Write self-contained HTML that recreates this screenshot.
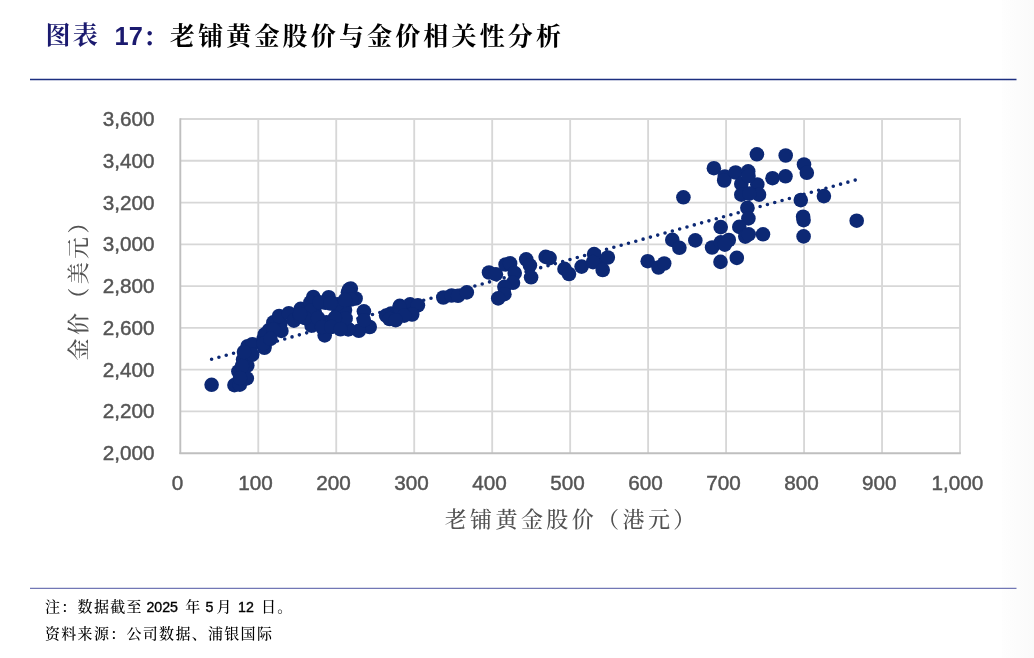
<!DOCTYPE html>
<html lang="zh-CN">
<head>
<meta charset="utf-8">
<title>图表 17：老铺黄金股价与金价相关性分析</title>
<style>
html,body{margin:0;padding:0;background:#fff;}
body{width:1034px;height:658px;overflow:hidden;position:relative;font-family:"Liberation Sans","Noto Sans CJK SC",sans-serif;}
svg{position:absolute;left:0;top:0;display:block;}
.num{font-family:"Liberation Sans",sans-serif;font-size:20.7px;fill:#555;stroke:#555;stroke-width:0.45px;}
.ax{font-family:"Liberation Serif","Noto Serif CJK SC",serif;font-size:22px;letter-spacing:3.4px;fill:#525252;font-weight:500;}
.title{font-family:"Liberation Sans","Noto Serif CJK SC",serif;font-weight:bold;font-size:25px;}
.foot{font-family:"Liberation Sans","Noto Serif CJK SC",serif;font-size:15px;letter-spacing:1.3px;fill:#000;font-weight:500;}
.fnum{font-family:"Liberation Sans",sans-serif;font-size:14.2px;letter-spacing:0;font-weight:400;stroke:#000;stroke-width:0.35px;}
</style>
</head>
<body>
<svg width="1034" height="658" viewBox="0 0 1034 658">
<defs><linearGradient id="edge" x1="0" x2="1" y1="0" y2="0"><stop offset="0" stop-color="#fefefe"/><stop offset="1" stop-color="#fafafa"/></linearGradient></defs>
<rect width="1034" height="658" fill="#fff"/>
<rect x="1002" y="0" width="32" height="658" fill="url(#edge)"/>
<g class="title" fill="#1b1a6f">
<text x="45.6" y="44.4" letter-spacing="2.2">图表 </text>
<text x="114.6" y="45.2" font-size="25.4">17</text>
<text x="143" y="46">：</text>
</g>
<text class="title" x="170" y="44.6" fill="#000" letter-spacing="3.15">老铺黄金股价与金价相关性分析</text>
<line x1="30" y1="79.5" x2="1016.5" y2="79.5" stroke="#1c2f80" stroke-width="1.3"/>
<g stroke="#d7d7d7" stroke-width="1.85" fill="none"><line x1="258.27" y1="118.15" x2="258.27" y2="453.2"/><line x1="336.24" y1="118.15" x2="336.24" y2="453.2"/><line x1="414.21" y1="118.15" x2="414.21" y2="453.2"/><line x1="492.18" y1="118.15" x2="492.18" y2="453.2"/><line x1="570.15" y1="118.15" x2="570.15" y2="453.2"/><line x1="648.12" y1="118.15" x2="648.12" y2="453.2"/><line x1="726.09" y1="118.15" x2="726.09" y2="453.2"/><line x1="804.06" y1="118.15" x2="804.06" y2="453.2"/><line x1="882.03" y1="118.15" x2="882.03" y2="453.2"/><line x1="960.00" y1="118.15" x2="960.00" y2="453.2"/><line x1="180.3" y1="119.00" x2="960.85" y2="119.00"/><line x1="180.3" y1="160.78" x2="960.85" y2="160.78"/><line x1="180.3" y1="202.55" x2="960.85" y2="202.55"/><line x1="180.3" y1="244.32" x2="960.85" y2="244.32"/><line x1="180.3" y1="286.10" x2="960.85" y2="286.10"/><line x1="180.3" y1="327.88" x2="960.85" y2="327.88"/><line x1="180.3" y1="369.65" x2="960.85" y2="369.65"/><line x1="180.3" y1="411.43" x2="960.85" y2="411.43"/></g>
<g stroke="#bfbfbf" stroke-width="1.9" fill="none"><line x1="180.3" y1="118.15" x2="180.3" y2="454.09999999999997"/><line x1="179.4" y1="453.2" x2="960.85" y2="453.2"/></g>
<g class="num"><text x="154.6" y="126.0" text-anchor="end">3,600</text><text x="154.6" y="167.8" text-anchor="end">3,400</text><text x="154.6" y="209.6" text-anchor="end">3,200</text><text x="154.6" y="251.3" text-anchor="end">3,000</text><text x="154.6" y="293.1" text-anchor="end">2,800</text><text x="154.6" y="334.9" text-anchor="end">2,600</text><text x="154.6" y="376.6" text-anchor="end">2,400</text><text x="154.6" y="418.4" text-anchor="end">2,200</text><text x="154.6" y="460.2" text-anchor="end">2,000</text><text x="177.6" y="490.1" text-anchor="middle">0</text><text x="255.6" y="490.1" text-anchor="middle">100</text><text x="333.5" y="490.1" text-anchor="middle">200</text><text x="411.5" y="490.1" text-anchor="middle">300</text><text x="489.5" y="490.1" text-anchor="middle">400</text><text x="567.5" y="490.1" text-anchor="middle">500</text><text x="645.4" y="490.1" text-anchor="middle">600</text><text x="723.4" y="490.1" text-anchor="middle">700</text><text x="801.4" y="490.1" text-anchor="middle">800</text><text x="879.3" y="490.1" text-anchor="middle">900</text><text x="957.3" y="490.1" text-anchor="middle">1,000</text></g>
<text class="ax" x="571.7" y="527.3" text-anchor="middle">老铺黄金股价（港元）</text>
<text class="ax" transform="translate(85.8,284.3) rotate(-90)" text-anchor="middle">金价（美元）</text>
<line x1="211.6" y1="359.3" x2="855.2" y2="180.1" stroke="#0c2874" stroke-width="3.6" stroke-linecap="round" stroke-dasharray="0 7.5918"/>
<g fill="#0c2874"><circle cx="211.6" cy="384.8" r="7.3"/><circle cx="234.4" cy="385.1" r="7.3"/><circle cx="239.8" cy="384.7" r="7.3"/><circle cx="246.8" cy="378.4" r="7.3"/><circle cx="238.4" cy="371.5" r="7.3"/><circle cx="247.3" cy="365.6" r="7.3"/><circle cx="243.1" cy="359.6" r="7.3"/><circle cx="247.6" cy="346.2" r="7.3"/><circle cx="252.3" cy="344.2" r="7.3"/><circle cx="280.5" cy="323.2" r="7.3"/><circle cx="269" cy="330.1" r="7.3"/><circle cx="252.2" cy="354.7" r="7.3"/><circle cx="264.4" cy="346.4" r="7.3"/><circle cx="264.4" cy="347.8" r="7.3"/><circle cx="263.5" cy="338.9" r="7.3"/><circle cx="242" cy="366" r="7.3"/><circle cx="244" cy="352" r="7.3"/><circle cx="240" cy="378" r="7.3"/><circle cx="273.4" cy="322.3" r="7.3"/><circle cx="279.1" cy="316.0" r="7.3"/><circle cx="288.8" cy="313.2" r="7.3"/><circle cx="300.7" cy="308.9" r="7.3"/><circle cx="313.3" cy="297.0" r="7.3"/><circle cx="310.4" cy="302.4" r="7.3"/><circle cx="328.7" cy="297.2" r="7.3"/><circle cx="349.2" cy="289.3" r="7.3"/><circle cx="325.3" cy="302.8" r="7.3"/><circle cx="326.4" cy="322.2" r="7.3"/><circle cx="314.7" cy="312" r="7.3"/><circle cx="311.1" cy="310.3" r="7.3"/><circle cx="338.5" cy="311.5" r="7.3"/><circle cx="293.9" cy="320.6" r="7.3"/><circle cx="311.6" cy="325.7" r="7.3"/><circle cx="324.7" cy="335.4" r="7.3"/><circle cx="348.1" cy="329.2" r="7.3"/><circle cx="281.4" cy="330.9" r="7.3"/><circle cx="264.8" cy="334.3" r="7.3"/><circle cx="263.7" cy="343.4" r="7.3"/><circle cx="273.4" cy="329.7" r="7.3"/><circle cx="270.5" cy="338.9" r="7.3"/><circle cx="300" cy="316" r="7.3"/><circle cx="305" cy="318" r="7.3"/><circle cx="318" cy="318" r="7.3"/><circle cx="322" cy="327" r="7.3"/><circle cx="300" cy="314" r="7.3"/><circle cx="350.8" cy="288.6" r="7.3"/><circle cx="355.6" cy="298.5" r="7.3"/><circle cx="347.9" cy="292.2" r="7.3"/><circle cx="363.9" cy="311.3" r="7.3"/><circle cx="369.7" cy="327.0" r="7.3"/><circle cx="358.8" cy="330.8" r="7.3"/><circle cx="348.5" cy="329.3" r="7.3"/><circle cx="345" cy="310" r="7.3"/><circle cx="345.6" cy="318.5" r="7.3"/><circle cx="351" cy="299.5" r="7.3"/><circle cx="337.1" cy="304.2" r="7.3"/><circle cx="334.8" cy="317.9" r="7.3"/><circle cx="331.4" cy="327.0" r="7.3"/><circle cx="340.5" cy="329.3" r="7.3"/><circle cx="345" cy="300" r="7.3"/><circle cx="363.9" cy="320.2" r="7.3"/><circle cx="319.5" cy="302.3" r="7.3"/><circle cx="330.4" cy="303.5" r="7.3"/><circle cx="391" cy="313.5" r="7.3"/><circle cx="600.5" cy="261.5" r="7.3"/><circle cx="386.1" cy="315.6" r="7.3"/><circle cx="399.8" cy="305.9" r="7.3"/><circle cx="410.1" cy="304.4" r="7.3"/><circle cx="395.3" cy="319.7" r="7.3"/><circle cx="411.2" cy="314.0" r="7.3"/><circle cx="389.6" cy="319.0" r="7.3"/><circle cx="399.6" cy="307.6" r="7.3"/><circle cx="417.9" cy="305.3" r="7.3"/><circle cx="412.2" cy="314.5" r="7.3"/><circle cx="404.2" cy="315.6" r="7.3"/><circle cx="395.7" cy="320.2" r="7.3"/><circle cx="443.3" cy="297.5" r="7.3"/><circle cx="451.6" cy="295.5" r="7.3"/><circle cx="458.0" cy="295.8" r="7.3"/><circle cx="466.8" cy="292.4" r="7.3"/><circle cx="489.0" cy="272.5" r="7.3"/><circle cx="495.9" cy="274.2" r="7.3"/><circle cx="505.6" cy="264.5" r="7.3"/><circle cx="510.1" cy="263.4" r="7.3"/><circle cx="514.7" cy="273.1" r="7.3"/><circle cx="513.0" cy="282.8" r="7.3"/><circle cx="504.4" cy="286.8" r="7.3"/><circle cx="504.4" cy="294.2" r="7.3"/><circle cx="498.2" cy="298.4" r="7.3"/><circle cx="526.2" cy="259.3" r="7.3"/><circle cx="529.9" cy="265.3" r="7.3"/><circle cx="531.1" cy="277.3" r="7.3"/><circle cx="545.7" cy="256.9" r="7.3"/><circle cx="549.6" cy="258.1" r="7.3"/><circle cx="564.5" cy="268.9" r="7.3"/><circle cx="569.0" cy="274.0" r="7.3"/><circle cx="581.6" cy="266.6" r="7.3"/><circle cx="594.1" cy="254.1" r="7.3"/><circle cx="593.0" cy="262.1" r="7.3"/><circle cx="607.8" cy="257.5" r="7.3"/><circle cx="602.7" cy="270.0" r="7.3"/><circle cx="683.4" cy="197.3" r="7.3"/><circle cx="672.3" cy="239.9" r="7.3"/><circle cx="679.4" cy="247.8" r="7.3"/><circle cx="695.3" cy="240.4" r="7.3"/><circle cx="647.7" cy="261.2" r="7.3"/><circle cx="658.5" cy="267.5" r="7.3"/><circle cx="664.2" cy="263.5" r="7.3"/><circle cx="712.1" cy="247.5" r="7.3"/><circle cx="720.7" cy="227.1" r="7.3"/><circle cx="720.5" cy="261.9" r="7.3"/><circle cx="713.9" cy="168.2" r="7.3"/><circle cx="724.8" cy="176.5" r="7.3"/><circle cx="724.2" cy="180.5" r="7.3"/><circle cx="735.6" cy="172.5" r="7.3"/><circle cx="748.2" cy="171.4" r="7.3"/><circle cx="756.9" cy="154.3" r="7.3"/><circle cx="785.7" cy="155.5" r="7.3"/><circle cx="772.5" cy="178.2" r="7.3"/><circle cx="785.5" cy="176.3" r="7.3"/><circle cx="741.3" cy="183.9" r="7.3"/><circle cx="757.3" cy="184.5" r="7.3"/><circle cx="741.3" cy="194.7" r="7.3"/><circle cx="759.0" cy="194.7" r="7.3"/><circle cx="749.3" cy="193.6" r="7.3"/><circle cx="747.4" cy="207.8" r="7.3"/><circle cx="748.4" cy="218.4" r="7.3"/><circle cx="739.3" cy="226.9" r="7.3"/><circle cx="745.3" cy="236.6" r="7.3"/><circle cx="748.7" cy="234.3" r="7.3"/><circle cx="763.0" cy="234.3" r="7.3"/><circle cx="720.8" cy="242.3" r="7.3"/><circle cx="728.8" cy="240.0" r="7.3"/><circle cx="724.8" cy="244.6" r="7.3"/><circle cx="736.8" cy="257.9" r="7.3"/><circle cx="748.5" cy="176" r="7.3"/><circle cx="804.0" cy="164.5" r="7.3"/><circle cx="806.8" cy="172.8" r="7.3"/><circle cx="800.8" cy="200.1" r="7.3"/><circle cx="823.9" cy="196.1" r="7.3"/><circle cx="803.1" cy="216.7" r="7.3"/><circle cx="803.6" cy="220.1" r="7.3"/><circle cx="803.6" cy="236.4" r="7.3"/><circle cx="856.7" cy="220.7" r="7.3"/></g>
<line x1="30" y1="588.3" x2="1016.5" y2="588.3" stroke="#7277b5" stroke-width="1.2"/>
<text class="foot" y="612.2"><tspan x="45">注：数据截至 </tspan><tspan class="fnum" x="146.4">2025 </tspan><tspan x="185.3">年 </tspan><tspan class="fnum" x="205.6">5 </tspan><tspan x="216.6">月 </tspan><tspan class="fnum" x="238">12 </tspan><tspan x="261">日。</tspan></text>
<text class="foot" x="45" y="638.6">资料来源：公司数据、浦银国际</text>
</svg>
</body>
</html>
